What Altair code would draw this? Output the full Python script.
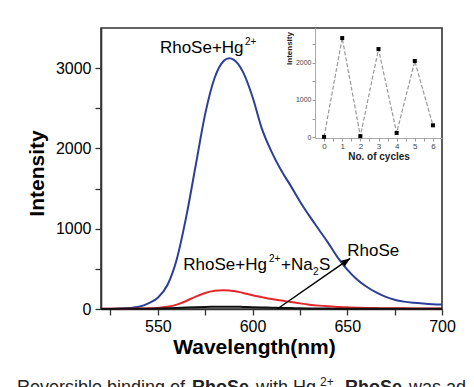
import altair as alt
import pandas as pd

# ---------------- data ----------------
wavelength = list(range(520, 701, 5))
rhose_hg = [3, 4, 6, 12, 28, 70, 140, 295, 620, 1150, 1790, 2430, 2880, 3095, 3105,
            2950, 2640, 2240, 1960, 1730, 1540, 1340, 1160, 990, 820, 640, 490, 370,
            280, 210, 155, 115, 92, 78, 68, 60, 55]
rhose_hg_na2s = [2, 2, 3, 3, 5, 8, 14, 28, 55, 100, 155, 200, 228, 235, 225, 200, 172,
                 148, 125, 105, 88, 70, 54, 42, 33, 26, 21, 17, 14, 12, 10, 9, 8, 7, 6, 5, 5]
rhose = [1, 1, 2, 2, 3, 4, 6, 9, 13, 18, 22, 26, 28, 29, 28, 26, 23, 20, 17, 14, 11, 9,
         7, 6, 5, 4, 4, 3, 3, 3, 3, 2, 2, 2, 2, 2, 2]
series_names = ["RhoSe+Hg2+", "RhoSe+Hg2++Na2S", "RhoSe"]
series_colors = ["#2b3f98", "#e5262b", "#111111"]

cycles = [0, 1, 2, 3, 4, 5, 6]
cycle_intensity = [10, 2660, 30, 2365, 115, 2045, 320]

# annotation texts (data coordinates)
label_text = ["RhoSe+Hg", "2+", "RhoSe+Hg", "2+", "+Na", "2", "S", "RhoSe"]
label_x = [551.1, 596.0, 563.4, 608.7, 615.0, 631.9, 635.1, 650.0]
label_y = [3189, 3290, 486, 585, 486, 423, 486, 660]
label_size = [17, 10, 17, 10, 17, 10, 17, 17]

arrow_from = (613, 0)
arrow_to = (651.5, 630)

# ---------------- frames ----------------
rows = []
for name, vals in zip(series_names, [rhose_hg, rhose_hg_na2s, rhose]):
    for w, v in zip(wavelength, vals):
        rows.append({"wavelength": w, "intensity": v, "series": name})
spectra = pd.DataFrame(rows)
labels = pd.DataFrame({"x": label_x, "y": label_y, "t": label_text, "fs": label_size})
arrow = pd.DataFrame({"x": [arrow_from[0]], "y": [arrow_from[1]],
                      "x2": [arrow_to[0]], "y2": [arrow_to[1]]})
head = pd.DataFrame({"x": [arrow_to[0]], "y": [arrow_to[1]]})
inset = pd.DataFrame({"cycle": cycles, "value": cycle_intensity})

W, H = 341, 281
FONT = "Liberation Sans"

xs = alt.Scale(domain=[520, 700], nice=False, zero=False)
ys = alt.Scale(domain=[0, 3500], nice=False)

x_axis = alt.Axis(
    values=list(range(525, 701, 25)),
    labelExpr="datum.value % 50 == 0 ? datum.label : ''",
    title="Wavelength(nm)", titleFontSize=21, titleFontWeight="bold", titleFont=FONT,
    titleX=153, titleY=27, titleBaseline="top", titleColor="#000",
    labelFont=FONT, labelFontSize=16, labelColor="#000", labelPadding=3,
    labelFlush=False, labelOverlap=False,
    tickSize=6, tickColor="#333", tickWidth=1.3,
    domainColor="#333", domainWidth=1.6, grid=False,
)
y_axis = alt.Axis(
    values=list(range(0, 3001, 500)),
    labelExpr="datum.value % 1000 == 0 ? datum.label : ''",
    format="d",
    title="Intensity", titleFontSize=21, titleFontWeight="bold", titleFont=FONT,
    titleX=-54, titleY=145, titleColor="#000",
    labelFont=FONT, labelFontSize=16, labelColor="#000", labelPadding=4,
    labelOverlap=False,
    tickSize=6, tickColor="#333", tickWidth=1.3,
    domainColor="#333", domainWidth=1.6, grid=False,
)


def X(field):
    return alt.X(field, type="quantitative", scale=xs, axis=x_axis)


def Y(field):
    return alt.Y(field, type="quantitative", scale=ys, axis=y_axis)


lines = alt.Chart(spectra).mark_line(interpolate="cardinal", strokeWidth=2).encode(
    x=X("wavelength"), y=Y("intensity"),
    color=alt.Color("series:N", scale=alt.Scale(domain=series_names, range=series_colors), legend=None),
    strokeWidth=alt.StrokeWidth("series:N", scale=alt.Scale(domain=series_names, range=[2, 2, 2.6]), legend=None),
    order=alt.Order("wavelength:Q"),
)

arrow_line = alt.Chart(arrow).mark_rule(color="#000", strokeWidth=1.5).encode(
    x=X("x"), y=Y("y"), x2="x2", y2="y2"
)
arrow_head = alt.Chart(head).mark_point(
    shape="M0,0L-0.8,2L0.8,2Z", filled=True, color="#000", opacity=1, size=81, angle=55, strokeWidth=0
).encode(x=X("x"), y=Y("y"))

texts = alt.Chart(labels).mark_text(align="left", baseline="alphabetic", font=FONT, color="#000").encode(
    x=X("x"), y=Y("y"), text="t:N", size=alt.Size("fs:Q", scale=None, legend=None)
)

# caption fragments below the figure (partly cut off by the window)
caption_parts = [
    ("Reversible binding of", -84, 365, 18, "normal"),
    ("RhoSe", 91, 365, 18, "bold"),
    ("with Hg", 155, 365, 18, "normal"),
    ("2+", 219, 358, 12, "normal"),
    (".", 234, 365, 18, "normal"),
    ("RhoSe", 244, 365, 18, "bold"),
    ("was added", 308, 365, 18, "normal"),
]
caption_layers = [
    alt.Chart(alt.Data(values=[{}])).mark_text(
        align="left", baseline="alphabetic", font=FONT, fontSize=fs, fontWeight=fw, color="#222"
    ).encode(x=alt.value(px), y=alt.value(py), text=alt.value(t))
    for t, px, py, fs, fw in caption_parts
]

main = alt.layer(lines, arrow_line, arrow_head, texts, *caption_layers)

# ---------------- inset ----------------
ix = alt.Scale(domain=[-0.5, 6.5], range=[214, 341], nice=False, zero=False)
iy = alt.Scale(domain=[-20, 2930], range=[110, 0], nice=False, zero=False)
ix_axis = alt.Axis(
    orient="bottom", offset=-171,
    values=[i / 2 for i in range(0, 13)],
    labelExpr="datum.value % 1 == 0 ? format(datum.value, 'd') : ''",
    title="No. of cycles", titleFontSize=10, titleFontWeight="bold", titleFont=FONT,
    titlePadding=1, titleColor="#222",
    labelFont=FONT, labelFontSize=8, labelColor="#444", labelPadding=1,
    labelFlush=False, labelOverlap=False,
    tickSize=3, tickColor="#999", domainColor="#aaa", domainWidth=1, grid=False,
)
iy_axis = alt.Axis(
    orient="left", offset=-214,
    values=list(range(0, 2501, 500)),
    labelExpr="datum.value % 1000 == 0 ? datum.label : ''",
    format="d",
    title="Intensity", titleFontSize=8, titleFontWeight="bold", titleFont=FONT,
    titleX=-22, titleY=20, titleColor="#222",
    labelFont=FONT, labelFontSize=7, labelColor="#444", labelPadding=1,
    labelOverlap=False,
    tickSize=3, tickColor="#999", domainColor="#aaa", domainWidth=1, grid=False,
)
inset_line = alt.Chart(inset).mark_line(color="#999", strokeDash=[4, 2], strokeWidth=1.2).encode(
    x=alt.X("cycle:Q", scale=ix, axis=ix_axis), y=alt.Y("value:Q", scale=iy, axis=iy_axis)
)
inset_pts = alt.Chart(inset).mark_point(shape="square", filled=True, color="#000", size=16, opacity=1).encode(
    x=alt.X("cycle:Q", scale=ix, axis=ix_axis), y=alt.Y("value:Q", scale=iy, axis=iy_axis)
)
inset_chart = alt.layer(inset_line, inset_pts)

chart = alt.layer(main, inset_chart).resolve_scale(
    x="independent", y="independent"
).properties(
    width=W, height=H,
    autosize=alt.AutoSizeParams(type="none"),
    padding={"left": 93, "top": 20, "right": 24, "bottom": 86},
    background="white",
).configure_view(stroke="#333", strokeWidth=1.6)

chart.save("out.html", embed_options={"renderer": "svg", "actions": False})
